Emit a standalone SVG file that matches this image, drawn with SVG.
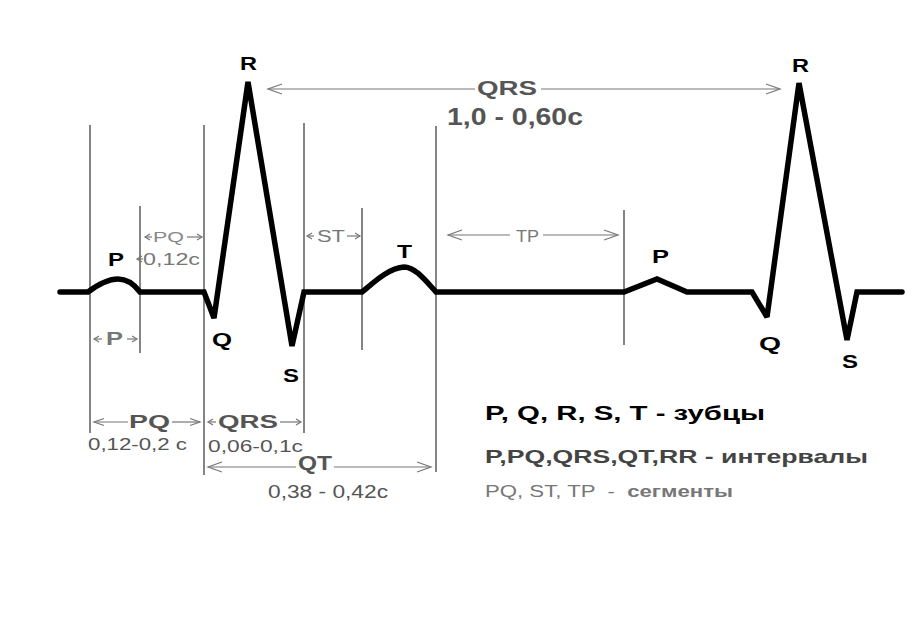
<svg xmlns="http://www.w3.org/2000/svg" width="919" height="617" viewBox="0 0 919 617">
<style>
.bg{fill:#fff}
.vl{stroke:#333;stroke-width:1.2;fill:none}
.ecg{stroke:#000;stroke-width:5.5;fill:none;stroke-linejoin:miter;stroke-miterlimit:3;stroke-linecap:round}
.ar{stroke:#777;stroke-width:1.2;fill:none}
.wave{font-family:"Liberation Sans",Arial,sans-serif;font-weight:bold;font-size:19px;fill:#000;text-anchor:start}
.g1{font-family:"Liberation Sans",Arial,sans-serif;fill:#666}
.b{font-weight:bold}
</style>
<defs>
<marker id="big" markerUnits="userSpaceOnUse" markerWidth="20" markerHeight="14" viewBox="-16 -7 20 14" refX="0" refY="0" orient="auto" overflow="visible"><path d="M-14,-5 L0,0 L-14,5" fill="none" stroke="#777" stroke-width="1.2"/></marker>
<marker id="mid" markerUnits="userSpaceOnUse" markerWidth="14" markerHeight="10" viewBox="-12 -5 14 10" refX="0" refY="0" orient="auto" overflow="visible"><path d="M-10,-3.5 L0,0 L-10,3.5" fill="none" stroke="#777" stroke-width="1.2"/></marker>
<marker id="sm" markerUnits="userSpaceOnUse" markerWidth="10" markerHeight="8" viewBox="-8 -4 10 8" refX="0" refY="0" orient="auto" overflow="visible"><path d="M-5,-3 L0,0 L-5,3" fill="none" stroke="#777" stroke-width="1.2"/></marker>
</defs>
<rect class="bg" x="0" y="0" width="919" height="617"/>

<g id="gridlines">
<line class="vl" x1="90" y1="125" x2="90" y2="433"/>
<line class="vl" x1="140" y1="206" x2="140" y2="353"/>
<line class="vl" x1="204" y1="125" x2="204" y2="475"/>
<line class="vl" x1="304" y1="123" x2="304" y2="433"/>
<line class="vl" x1="362" y1="208" x2="362" y2="350"/>
<line class="vl" x1="436" y1="126" x2="436" y2="472"/>
<line class="vl" x1="624" y1="210" x2="624" y2="345"/>
</g>

<g id="ecg-trace">
<path class="ecg" d="M60,292 L88,292 C100,283 109,279 118,279 C127,279 134,284 140,292 L204,292 L214,318 L248,82 L292,346 L304,292 L362,292 C372,284 388,268 404,267 C415,267 425,280 436,292 L624,292 L657,279 L687,292 L752,292 L767,317 L799,83 L847,340 L857,292 L902,292"/>
</g>

<g id="wave-labels" class="wave">
<text x="240" y="70" textLength="17" lengthAdjust="spacingAndGlyphs">R</text>
<text x="792" y="72" textLength="17" lengthAdjust="spacingAndGlyphs">R</text>
<text x="108" y="266" textLength="16" lengthAdjust="spacingAndGlyphs">P</text>
<text x="652" y="263" textLength="17" lengthAdjust="spacingAndGlyphs">P</text>
<text x="212" y="346" textLength="20" lengthAdjust="spacingAndGlyphs">Q</text>
<text x="759" y="350" textLength="22" lengthAdjust="spacingAndGlyphs">Q</text>
<text x="283" y="382" textLength="16" lengthAdjust="spacingAndGlyphs">S</text>
<text x="842" y="368" textLength="16" lengthAdjust="spacingAndGlyphs">S</text>
<text x="397" y="258" textLength="15" lengthAdjust="spacingAndGlyphs">T</text>
</g>

<g id="connectors">
<line class="ar" x1="475" y1="89" x2="268" y2="89" marker-end="url(#big)"/>
<line class="ar" x1="541" y1="89" x2="780" y2="89" marker-end="url(#big)"/>
<line class="ar" x1="152" y1="237" x2="145" y2="237" marker-end="url(#sm)"/>
<line class="ar" x1="187" y1="237" x2="202" y2="237" marker-end="url(#sm)"/>
<line class="ar" x1="143" y1="259" x2="137" y2="259" marker-end="url(#sm)"/>
<line class="ar" x1="314" y1="236" x2="307" y2="236" marker-end="url(#sm)"/>
<line class="ar" x1="347" y1="236" x2="360" y2="236" marker-end="url(#sm)"/>
<line class="ar" x1="510" y1="235" x2="448" y2="235" marker-end="url(#big)"/>
<line class="ar" x1="543" y1="235" x2="618" y2="235" marker-end="url(#big)"/>
<line class="ar" x1="102" y1="339" x2="94" y2="339" marker-end="url(#sm)"/>
<line class="ar" x1="127" y1="339" x2="137" y2="339" marker-end="url(#sm)"/>
<line class="ar" x1="128" y1="422" x2="94" y2="422" marker-end="url(#mid)"/>
<line class="ar" x1="172" y1="422" x2="200" y2="422" marker-end="url(#mid)"/>
<line class="ar" x1="216" y1="422" x2="208" y2="422" marker-end="url(#sm)"/>
<line class="ar" x1="280" y1="422" x2="301" y2="422" marker-end="url(#sm)"/>
<line class="ar" x1="296" y1="467" x2="208" y2="467" marker-end="url(#big)"/>
<line class="ar" x1="334" y1="467" x2="431" y2="467" marker-end="url(#big)"/>
</g>

<g id="interval-labels" class="g1">
<text x="477" y="95" class="b" font-size="20" fill="#555" textLength="60" lengthAdjust="spacingAndGlyphs">QRS</text>
<text x="447" y="125" class="b" font-size="23" fill="#555" textLength="136" lengthAdjust="spacingAndGlyphs">1,0 - 0,60c</text>
<text x="153" y="242" font-size="14" fill="#888" textLength="31" lengthAdjust="spacingAndGlyphs">PQ</text>
<text x="143" y="265" font-size="17" fill="#777" textLength="57" lengthAdjust="spacingAndGlyphs">0,12c</text>
<text x="317" y="242" font-size="16" fill="#777" textLength="28" lengthAdjust="spacingAndGlyphs">ST</text>
<text x="516" y="242" font-size="17" fill="#777" textLength="23" lengthAdjust="spacingAndGlyphs">TP</text>
<text x="106" y="345" class="b" font-size="18" fill="#777" textLength="17" lengthAdjust="spacingAndGlyphs">P</text>
<text x="129" y="428" class="b" font-size="19" fill="#555" textLength="41" lengthAdjust="spacingAndGlyphs">PQ</text>
<text x="88" y="450" font-size="17" fill="#555" textLength="99" lengthAdjust="spacingAndGlyphs">0,12-0,2 c</text>
<text x="218" y="428" class="b" font-size="19" fill="#555" textLength="60" lengthAdjust="spacingAndGlyphs">QRS</text>
<text x="208" y="452" font-size="17" fill="#555" textLength="95" lengthAdjust="spacingAndGlyphs">0,06-0,1c</text>
<text x="298" y="470" class="b" font-size="20" fill="#555" textLength="34" lengthAdjust="spacingAndGlyphs">QT</text>
<text x="268" y="498" font-size="18" fill="#555" textLength="120" lengthAdjust="spacingAndGlyphs">0,38 - 0,42c</text>
</g>

<g id="legend" font-family="'Liberation Sans',Arial,sans-serif">
<text x="485" y="420" font-size="21" font-weight="bold" fill="#000" textLength="280" lengthAdjust="spacingAndGlyphs">P, Q, R, S, T - зубцы</text>
<text x="485" y="463" font-size="19" font-weight="bold" fill="#444" textLength="383" lengthAdjust="spacingAndGlyphs">P,PQ,QRS,QT,RR - интервалы</text>
<text x="485" y="497" font-size="16" fill="#777" style="white-space:pre" textLength="248" lengthAdjust="spacingAndGlyphs">PQ, ST, TP  -  <tspan font-weight="bold">сегменты</tspan></text>
</g>
</svg>
